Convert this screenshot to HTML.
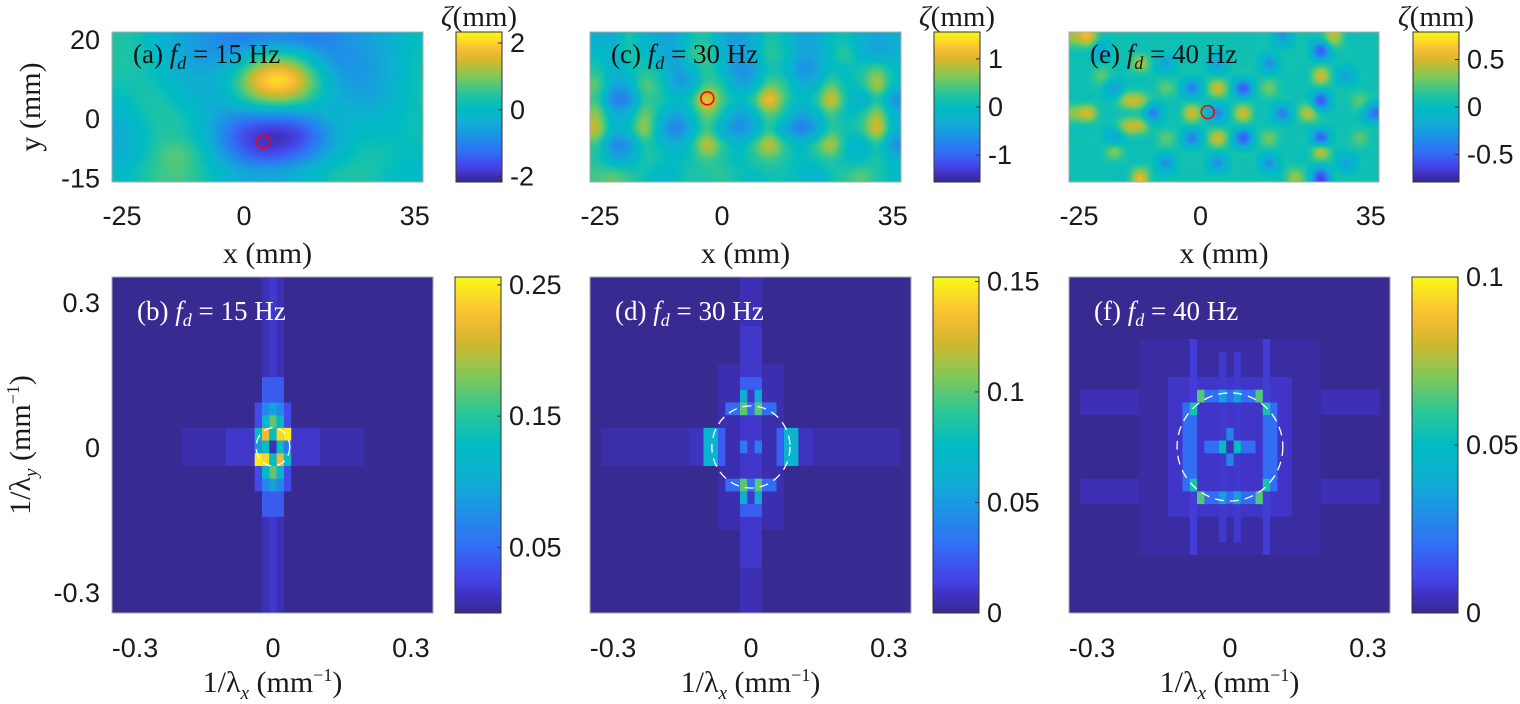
<!DOCTYPE html>
<html><head><meta charset="utf-8"><style>
html,body{margin:0;padding:0;background:#fff;}
#wrap{position:relative;width:1520px;height:704px;overflow:hidden;}
canvas{position:absolute;}
svg{position:absolute;left:0;top:0;}
text{font-family:"Liberation Sans",sans-serif;fill:#1a1a1a;}
.serif{font-family:"Liberation Serif",serif;}
</style></head><body>
<div id="wrap">
<canvas id="mapA" width="311" height="150" style="left:112px;top:32px"></canvas>
<canvas id="mapC" width="311" height="150" style="left:590px;top:32px"></canvas>
<canvas id="mapE" width="310" height="150" style="left:1069px;top:32px"></canvas>
<svg id="fig" width="1520" height="704" xmlns="http://www.w3.org/2000/svg"></svg>
</div>
<script>
// ---------- data ----------
const gridA = [
[0.4,0.2,-0.2,-0.5,-0.7,-0.9,-1.0,-0.9,-0.8,-0.9,-1.0,-0.9,-0.7,-0.5,-0.3,0.1],
[0.4,0.3,0,-0.4,-0.6,-0.6,-0.2,0.6,1.0,0.7,-0.2,-0.8,-0.8,-0.6,-0.3,0.2],
[0.3,0.3,0.1,-0.2,-0.4,-0.2,0.6,1.8,2.2,1.8,0.6,-0.4,-0.7,-0.6,-0.3,0.2],
[0.1,0.3,0.3,0,-0.3,-0.3,0.3,1.0,1.3,1.0,0.3,-0.3,-0.5,-0.5,-0.2,0.2],
[-0.2,0.2,0.4,0.3,-0.1,-0.6,-0.9,-1.0,-1.0,-0.9,-0.6,-0.2,-0.2,-0.2,0,0.2],
[-0.4,0,0.4,0.4,0,-0.8,-1.5,-1.9,-2.0,-1.8,-1.2,-0.5,0,0.1,0.1,0.2],
[-0.3,0.1,0.6,0.8,0.3,-0.5,-1.2,-1.6,-1.6,-1.3,-0.8,-0.2,0.2,0.3,0.2,0.1],
[0,0.3,0.6,0.7,0.4,0,-0.4,-0.5,-0.5,-0.3,0,0.3,0.4,0.3,0.1,0]
];
const gridC = [
[-0.3,-0.3,0.2,-0.2,-0.4,-0.4,0.1,0.2,-0.3,-0.5,-0.3,0.2,0,-0.4,-0.4,0,0.1,-0.3,-0.4,-0.3],
[0,-0.2,0.2,0,-0.3,-0.4,0.3,0.4,-0.2,-0.5,-0.3,0.3,0.1,-0.4,-0.4,0,0.3,-0.2,-0.4,-0.3],
[0.2,-0.2,0,0.2,0,-0.5,-0.2,0.3,-0.1,-0.6,-0.5,0.1,0,-0.6,-0.5,0,0,0.2,0.5,0],
[0.5,-0.4,-0.3,0.5,0.2,-0.5,-0.4,0.4,0.2,-0.4,-0.3,0.5,0.3,-0.3,-0.2,0.5,0,0.2,0.9,0],
[0.3,-0.8,-0.7,0.3,0.2,0,0.2,1.3,0.4,0,0.3,1.3,0.4,0,0.2,1.1,0.1,-0.3,0.2,-0.6],
[0.7,-0.3,-0.2,0.6,0,-0.5,-0.1,0.6,0.1,-0.5,-0.2,0.5,0.1,-0.5,-0.2,0.4,0,0.2,0.8,-0.2],
[0.9,-0.2,0,0.8,-0.3,-0.8,-0.3,0.4,-0.3,-0.7,-0.4,0.3,-0.4,-0.8,-0.5,0.3,0.1,0.3,1.1,-0.2],
[0.3,-0.7,-0.6,0.2,0,-0.3,0.1,1.0,0.3,-0.1,0.3,1.0,0.3,-0.1,0.3,0.9,0,-0.2,0.2,-0.6],
[0.2,-0.3,-0.3,0.2,0.1,0,0.1,0.4,0.2,0,0.2,0.4,0.2,0,0.1,0.3,0,0,0.2,-0.2],
[0.4,0.5,0.3,0.1,-0.1,0,0.2,0.2,0.3,0.1,0,0.1,0.1,0,-0.2,0.1,0.3,0.5,0.2,0]
];
const gridEcols = 24, gridErows = 12, gridEbase = 0.05;
const cellsE = [
[9,6,0.6],[13,6,0.6],[11,4,0.6],[11,8,0.6],[4,5,0.5],[5,5,0.5],[4,7,0.5],[5,7,0.5],
[18,6,0.55],[19,3,0.6],[19,9,0.55],[1,6,0.6],[0,6,0.4],[1,0,0.6],[0,0,0.4],[5,11,0.6],
[5,2,0.5],[20,0,0.5],[15,4,0.35],[15,8,0.35],[7,4,0.3],[7,8,0.3],[3,9,0.4],[17,11,0.4],
[22,5,0.3],[22,8,0.3],[2,3,0.3],
[11,6,-0.45],[6,6,-0.5],[16,6,-0.5],[13,4,-0.7],[13,8,-0.7],[9,4,-0.5],[9,8,-0.5],
[19,1,-0.7],[19,5,-0.7],[19,8,-0.7],[19,11,-0.7],[11,10,-0.4],[11,2,-0.3],[23,6,-0.5],
[7,10,-0.4],[15,10,-0.4],[3,4,-0.3],[3,8,-0.3],[7,2,-0.3],[15,2,-0.4],[21,3,-0.3],
[21,10,-0.3],[16,0,-0.3],[2,1,-0.3]
];
// spectra blocks: [ix0, ix1, iy0, iy1, value]
const specB = [
[-1,1,-13,13,0.01],[0,0,-13,13,0.018],[-12,12,-1,1,0.007],[-6,6,-1,1,0.016],[-2,2,-3,3,0.03],
[-1,1,4,5,0.04],[-1,1,-5,-4,0.04],
[-1,1,3,3,0.07],[0,0,3,3,0.09],[-1,1,-3,-3,0.07],[0,0,-3,-3,0.09],
[-1,-1,2,2,0.11],[0,0,2,2,0.17],[1,1,2,2,0.12],[-1,-1,-2,-2,0.12],[0,0,-2,-2,0.17],[1,1,-2,-2,0.11],
[-2,-2,1,1,0.13],[-1,-1,1,1,0.22],[0,0,1,1,0.13],[1,1,1,1,0.24],[2,2,1,1,0.25],
[-2,-2,0,0,0.08],[-1,-1,0,0,0.13],[0,0,0,0,0.01],[1,1,0,0,0.13],[2,2,0,0,0.06],
[-2,-2,-1,-1,0.25],[-1,-1,-1,-1,0.24],[0,0,-1,-1,0.13],[1,1,-1,-1,0.22],[2,2,-1,-1,0.13]
];
const specD = [
[-1,1,-13,13,0.006],[-20,20,-1,1,0.004],[-8,8,-1,1,0.008],[-4,4,-6,6,0.005],[-1,1,-9,9,0.01],
[-6,-5,-1,1,0.065],[5,6,-1,1,0.065],[-4,-4,-1,1,0.025],[4,4,-1,1,0.025],
[-3,3,3,3,0.03],[-3,3,-3,-3,0.03],
[-1,-1,3,3,0.1],[1,1,3,3,0.1],[0,0,3,3,0.03],[-1,-1,-3,-3,0.1],[1,1,-3,-3,0.1],[0,0,-3,-3,0.03],
[-1,-1,4,4,0.06],[1,1,4,4,0.06],[-1,-1,-4,-4,0.06],[1,1,-4,-4,0.06],
[-1,1,0,0,0.035],[0,0,0,0,0.01],[-1,1,5,5,0.025],[-1,1,-5,-5,0.025]
];
const specF = [
[-20,20,-4,-3,0.004],[-20,20,3,4,0.004],[-12,12,-8,8,0.002],[-8,8,-5,5,0.006],
[-5,-5,-8,8,0.008],[5,5,-8,8,0.008],[-1,-1,-7,7,0.007],[1,1,-7,7,0.007],
[-4,4,4,4,0.02],[-4,4,-4,-4,0.02],[-6,-5,-3,3,0.02],[5,6,-3,3,0.02],
[-4,-4,4,4,0.065],[4,4,4,4,0.065],[-4,-4,-4,-4,0.065],[4,4,-4,-4,0.065],
[-5,-5,3,3,0.055],[5,5,3,3,0.055],[-5,-5,-3,-3,0.055],[5,5,-3,-3,0.055],
[-1,-1,4,4,0.035],[1,1,4,4,0.035],[-1,-1,-4,-4,0.035],[1,1,-4,-4,0.035],
[-1,-1,0,0,0.05],[1,1,0,0,0.05],[0,0,1,1,0.025],[0,0,-1,-1,0.025],[0,0,0,0,0.005],
[-3,-2,0,0,0.02],[2,3,0,0,0.02]
];
const topXTicks = [-25, 0, 35];
const topYTicks = [20, 0, -15];
const botTicks = [-0.3, 0, 0.3];
const cbTicksA = [2, 0, -2], cbTicksC = [1, 0, -1], cbTicksE = [0.5, 0, -0.5];
const cbTicksB = [0.25, 0.15, 0.05], cbTicksD = [0.15, 0.1, 0.05, 0], cbTicksF = [0.1, 0.05, 0];
const sourceA = [4, -6], sourceC = [-3, 5], sourceE = [1.5, 1.5];

// ---------- colormap ----------
const stops = [[0,[55,42,145]],[0.05,[62,50,190]],[0.1,[70,66,230]],[0.2,[50,110,245]],[0.3,[30,145,230]],[0.4,[15,175,210]],
[0.5,[0,188,195]],[0.6,[45,198,150]],[0.7,[125,200,90]],[0.8,[205,185,45]],[0.88,[252,185,55]],[1,[248,250,20]]];
function parula(t){t=Math.max(0,Math.min(1,t));
 for(let i=1;i<stops.length;i++){if(t<=stops[i][0]){const a=stops[i-1],b=stops[i];const f=(t-a[0])/(b[0]-a[0]);
  return [0,1,2].map(k=>Math.round(a[1][k]+f*(b[1][k]-a[1][k])));}}
 return stops[stops.length-1][1];}
const rgb=c=>`rgb(${c[0]},${c[1]},${c[2]})`;

// ---------- top maps ----------
function drawMap(id,grid,vmin,vmax){
 const cv=document.getElementById(id),ctx=cv.getContext('2d');
 const rows=grid.length,cols=grid[0].length;
 const sm=document.createElement('canvas');sm.width=cols;sm.height=rows;
 const sctx=sm.getContext('2d'),img=sctx.createImageData(cols,rows);
 for(let r=0;r<rows;r++)for(let c=0;c<cols;c++){const g=Math.round((grid[r][c]-vmin)/(vmax-vmin)*255);const k=(r*cols+c)*4;
  img.data[k]=g;img.data[k+1]=g;img.data[k+2]=g;img.data[k+3]=255;}
 sctx.putImageData(img,0,0);
 ctx.imageSmoothingEnabled=true;ctx.imageSmoothingQuality='high';
 ctx.drawImage(sm,0,0,cv.width,cv.height);
 const big=ctx.getImageData(0,0,cv.width,cv.height);
 for(let k=0;k<big.data.length;k+=4){const c=parula(big.data[k]/255);big.data[k]=c[0];big.data[k+1]=c[1];big.data[k+2]=c[2];big.data[k+3]=255;}
 ctx.putImageData(big,0,0);
}
const gridE=[];for(let r=0;r<gridErows;r++){gridE.push(new Array(gridEcols).fill(gridEbase));}
cellsE.forEach(([c,r,v])=>{gridE[r][c]=v;});
drawMap('mapA',gridA,-2.16,2.33);
drawMap('mapC',gridC,-1.56,1.56);
drawMap('mapE',gridE,-0.79,0.79);

// ---------- SVG ----------
const NS='http://www.w3.org/2000/svg',svg=document.getElementById('fig');
function el(tag,attrs,parent,txt){const e=document.createElementNS(NS,tag);for(const k in attrs)e.setAttribute(k,attrs[k]);if(txt!==undefined)e.textContent=txt;(parent||svg).appendChild(e);return e;}
const defs=el('defs',{});
const grad=el('linearGradient',{id:'parula',x1:0,y1:1,x2:0,y2:0},defs);
for(let i=0;i<=20;i++){const t=i/20;el('stop',{offset:t,'stop-color':rgb(parula(t))},grad);}

const lefts=[112,590,1069];
const topCfg=[{L:'a',f:'15',cb:cbTicksA,rng:[-2.16,2.33],src:sourceA},{L:'c',f:'30',cb:cbTicksC,rng:[-1.56,1.56],src:sourceC},{L:'e',f:'40',cb:cbTicksE,rng:[-0.79,0.79],src:sourceE}];
const botCfg=[{L:'b',f:'15',spec:specB,cmax:0.256,cb:cbTicksB,ell:[0.0365,0.0395]},{L:'d',f:'30',spec:specD,cmax:0.152,cb:cbTicksD,ell:[0.085,0.085]},{L:'f',f:'40',spec:specF,cmax:0.1,cb:cbTicksF,ell:[0.115,0.112]}];
const dfx=1/63, dfy=1/38;

function panelLabel(g,x,y,L,f,color){
 const t=el('text',{x:x,y:y,class:'serif','font-size':27,fill:color,style:'fill:'+color},g);
 el('tspan',{},t,'('+L+') ');
 el('tspan',{'font-style':'italic'},t,'f');
 el('tspan',{'font-style':'italic','font-size':18,dy:6},t,'d');
 el('tspan',{dy:-6},t,' = '+f+' Hz');
 return t;}

function colorbar(g,x,y0,y1,ticks,rng){
 el('rect',{x:x,y:y0,width:46,height:y1-y0,fill:'url(#parula)',stroke:'#333','stroke-width':1},g);
 ticks.forEach(v=>{const y=y1-(v-rng[0])/(rng[1]-rng[0])*(y1-y0);
  const tk=el('line',{x1:x+42,x2:x+46,y1:y,y2:y,stroke:'#333','stroke-width':1},g);
  
  const lb=el('text',{x:x+54,y:y+9,'font-size':27},g,String(v));
  
  });
}

topCfg.forEach((p,i)=>{
 const L=lefts[i],W=i===2?310:311,T=32,B=182;
 const g=el('g',{});
 
 
 const sx=v=>L+(v+27.05)/(36.7+27.05)*W, sy=v=>B-(v+16.2)/(21.8+16.2)*(B-T);
 el('rect',{x:L,y:T,width:W,height:B-T,fill:'none',stroke:'#aaa','stroke-width':1},g);
 const c=el('circle',{cx:sx(p.src[0]),cy:sy(p.src[1]),r:6.5,fill:'none',stroke:'#f00','stroke-width':1.6},g);
 
 
 const pl=panelLabel(g,L+21,63,p.L,p.f,'#111');
 
 
 topXTicks.forEach(v=>{const t=el('text',{x:sx(v),y:225,'font-size':27,'text-anchor':'middle'},g,String(v));
  });
 if(i===0){topYTicks.forEach(v=>{const t=el('text',{x:100,y:sy(v)+10,'font-size':27,'text-anchor':'end'},g,String(v));
  });
  const yl=el('text',{x:-107,y:40,transform:'rotate(-90)','font-size':30,'text-anchor':'middle',class:'serif'},g,'y (mm)');
  }
 const xl=el('text',{x:L+W/2,y:263,'font-size':30,'text-anchor':'middle',class:'serif'},g,'x (mm)');
 
 const cbx=L+344;
 colorbar(g,cbx,32,182,p.cb,p.rng);
 const ct=el('text',{x:cbx+23,y:26,'font-size':29,'text-anchor':'middle',class:'serif'},g);
 
 el('tspan',{'font-style':'italic'},ct,'ζ');el('tspan',{},ct,'(mm)');
});

botCfg.forEach((p,i)=>{
 const L=lefts[i],W=321,T=277,B=613;
 const g=el('g',{});
 
 
 const sx=v=>L+(v+0.35)/0.698*W, sy=v=>B-(v+0.344)/0.696*(B-T);
 const clipId='clip'+p.L;const cp=el('clipPath',{id:clipId},defs);el('rect',{x:L,y:T,width:W,height:B-T},cp);
 el('rect',{x:L,y:T,width:W,height:B-T,fill:rgb(parula(0))},g);
 const cg=el('g',{'clip-path':'url(#'+clipId+')'},g);
 p.spec.forEach(([ix0,ix1,iy0,iy1,v])=>{
  const x0=sx((ix0-0.5)*dfx),x1=sx((ix1+0.5)*dfx),y0=sy((iy1+0.5)*dfy),y1=sy((iy0-0.5)*dfy);
  const r=el('rect',{x:x0,y:y0,width:x1-x0,height:y1-y0,fill:rgb(parula(v/p.cmax))},cg);
  
  });
 const e=el('ellipse',{cx:sx(0),cy:sy(0),rx:sx(p.ell[0])-sx(0),ry:sy(0)-sy(p.ell[1]),fill:'none',stroke:'#fff','stroke-width':1.3,'stroke-dasharray':'9 6'},g);
 
 
 el('rect',{x:L,y:T,width:W,height:B-T,fill:'none',stroke:'#aaa','stroke-width':1},g);
 const pl=panelLabel(g,L+25,320,p.L,p.f,'#fff');
 
 
 botTicks.forEach(v=>{const t=el('text',{x:sx(v),y:657,'font-size':27,'text-anchor':'middle'},g,String(v));
  });
 if(i===0){botTicks.forEach(v=>{const t=el('text',{x:100,y:sy(v)+10,'font-size':27,'text-anchor':'end'},g,String(v));
  });
  const yl=el('text',{x:-445,y:30,transform:'rotate(-90)','font-size':30,'text-anchor':'middle',class:'serif'},g);
  
  el('tspan',{},yl,'1/λ');el('tspan',{'font-style':'italic','font-size':19,dy:7},yl,'y');
  el('tspan',{dy:-7},yl,' (mm');el('tspan',{'font-size':18,dy:-11},yl,'−1');el('tspan',{dy:11},yl,')');}
 const xl=el('text',{x:L+W/2,y:692,'font-size':30,'text-anchor':'middle',class:'serif'},g);
 
 el('tspan',{},xl,'1/λ');el('tspan',{'font-style':'italic','font-size':19,dy:7},xl,'x');
 el('tspan',{dy:-7},xl,' (mm');el('tspan',{'font-size':18,dy:-11},xl,'−1');el('tspan',{dy:11},xl,')');
 colorbar(g,L+343,277,613,p.cb,[0,p.cmax]);
});
</script>
</body></html>
